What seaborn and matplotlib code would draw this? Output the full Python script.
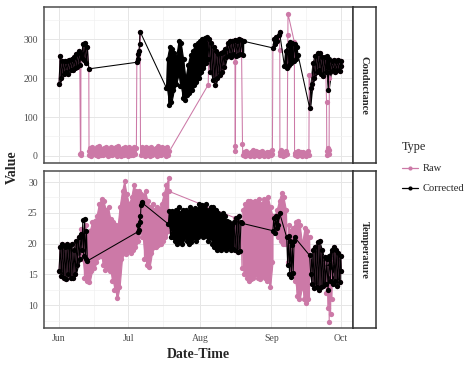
import numpy as np
import pandas as pd
import matplotlib
matplotlib.use("Agg")
import matplotlib.pyplot as plt
import matplotlib.dates as mdates
from matplotlib.lines import Line2D
import seaborn as sns

sns.set_style("white")
plt.rcParams['font.family'] = ['Liberation Serif', 'DejaVu Serif']

start = pd.Timestamp("2016-06-01")
pal = {'Raw': '#CC79A7', 'Corrected': '#000000'}

# ---- Conductance, corrected (days after Jun 1; daily low / high)
cond_c1_lo = [185, 200, 210, 215, 212, 220, 222, 225, 230, 235]
cond_c1_hi = [258, 245, 245, 245, 248, 250, 255, 262, 270, 262]
cond_c2_lo = [252, 246, 240]
cond_c2_hi = [288, 290, 280]
cond_c3_t = [33.7, 34.0, 34.3, 34.6, 34.9, 35.1]
cond_c3_v = [241, 262, 250, 270, 288, 320]
cond_c4_lo = [175, 132, 140, 170, 185, 210, 180, 150, 145, 158, 162, 170, 183, 190, 200, 215, 225,
              240, 250, 215, 195, 183, 200, 209, 215, 230, 255, 260, 255, 262, 258, 260, 262, 260]
cond_c4_hi = [250, 280, 275, 265, 255, 297, 290, 250, 200, 235, 260, 270, 285, 290, 295, 300, 303,
              306, 300, 290, 280, 270, 262, 265, 268, 275, 290, 295, 295, 298, 295, 300, 298, 295]
cond_c5_t = [92.6, 93.1, 93.6, 94.1, 94.6, 95.1, 95.5]
cond_c5_v = [278, 300, 288, 305, 295, 310, 318]
cond_c6_lo = [232, 226, 235, 240, 245, 250]
cond_c6_hi = [270, 285, 293, 290, 288, 280]
cond_c7_lo = [124, 185, 200, 215, 220, 210, 205, 215, 170, 215, 220, 215, 222, 218]
cond_c7_hi = [175, 240, 258, 264, 265, 255, 255, 258, 250, 245, 247, 245, 248, 245]

# ---- Conductance, raw-only readings (sensor out of water / spikes)
cond_r_lo1 = [3, 1, 4, 2, 0, 3, 2, 5, 1, 3, 2, 4, 1, 3, 0, 2, 4, 1, 3, 2, 4]
cond_r_hi1 = [20, 24, 18, 22, 25, 19, 21, 23, 18, 24, 20, 22, 25, 19, 21, 23, 20, 24, 18, 22, 21]
cond_r_lo2 = [2, 4, 1, 3, 0, 2, 5, 1, 3, 2, 4, 1, 3]
cond_r_hi2 = [22, 19, 24, 20, 23, 18, 21, 25, 19, 22, 20, 23, 12]
cond_r_lo3 = [3, 1, 2, 0, 2, 1, 3, 0, 2, 1, 2, 0, 3]
cond_r_hi3 = [10, 12, 8, 11, 14, 13, 9, 10, 12, 8, 11, 10, 15]
cond_r_lo4 = [2, 1, 3]
cond_r_hi4 = [14, 10, 12]
cond_r_lo5 = [2, 0, 3, 1, 2, 1]
cond_r_hi5 = [10, 12, 9, 11, 8, 12]
cond_r_t = [9.28, 9.36, 9.44, 12.95, 64.6, 76.2, 76.28, 76.36, 79.45, 92.4, 95.6, 95.65,
            98.8, 99.05, 99.1, 99.15, 101.9, 102.0, 108.2, 108.35,
            115.85, 115.95, 116.2, 116.45, 116.7, 116.95, 117.05]
cond_r_v = [5, 2, 8, 12, 183, 242, 12, 25, 30, 5, 272, 10,
            4, 230, 312, 366, 293, 8, 3, 209,
            138, 12, 2, 20, 5, 15, 200]

# ---- Temperature, corrected
temp_c1_lo = [15.5, 14.8, 14.5, 14.3, 15, 14.5, 14.5, 15, 16.5, 17.5]
temp_c1_hi = [19.5, 20, 19.5, 20, 19.5, 20, 19, 20.5, 21, 21.5]
temp_c2_t = [9.9, 10.3, 10.7, 11.1, 11.5, 11.9, 12.3]
temp_c2_v = [19, 23.8, 18, 24, 17.5, 22, 17.2]
temp_c3_t = [34.0, 34.3, 34.6, 34.9, 35.2, 35.5, 35.8, 36.1]
temp_c3_v = [21.9, 23, 22.2, 24.5, 23.5, 26.2, 26.8, 26.6]
temp_c4_lo = [23.2, 21, 21, 20.5, 20, 20.5, 20, 21, 20.5, 20, 20.3, 21, 20.5, 21, 21.5, 21,
              21.2, 20.5, 21, 20, 19.5, 19, 19.2, 18.9, 19.5, 19, 19.5, 18.9, 19.2, 19, 18.6, 18.8]
temp_c4_hi = [25.3, 25.3, 25, 25.5, 25.9, 25, 25.5, 25.5, 25, 25.9, 25.5, 25.8, 25.5, 26.4, 26.2, 26,
              26.4, 25.5, 26, 25.9, 25.5, 25, 24.5, 25, 24.5, 23.7, 23.5, 23, 23.5, 24.2, 24.5, 23.5]
temp_c5_t = [92.6, 93.0, 93.4, 93.8, 94.2, 94.6, 95.0, 95.5]
temp_c5_v = [22.1, 24.2, 21.8, 24.5, 22.5, 24.3, 23, 25]
temp_c6_t = [98.6, 99.0, 99.4, 99.8, 100.2, 100.6, 101.0, 101.4, 101.8, 102.1]
temp_c6_v = [21, 16.5, 21.3, 15, 20.5, 14.6, 19.8, 15.2, 20.5, 21]
temp_c7_lo = [18.1, 13.5, 12.8, 13, 12.5, 13, 13.2, 13.5, 12.4, 14, 13.5, 14, 13.2, 13.8]
temp_c7_hi = [15.0, 19, 19.5, 20.3, 20.5, 19, 17.8, 17.5, 18, 19, 19.4, 19, 18.5, 18]

# ---- Temperature, raw-only readings
temp_r_lo1 = [17.8, 17.5, 14.5, 14, 13.7, 15.5, 16, 17, 17.8, 18, 16.5, 15.7, 16, 15.5, 14, 12.5, 11.1,
              13, 17.5, 18.5, 18.3, 19, 18.5, 18.9, 19.5, 20.5, 22, 21, 17.5, 16.5, 16.2, 18.5, 19.4,
              19.5, 19.8, 20, 20.5, 21, 22]
temp_r_hi1 = [22.4, 22, 23, 21.5, 22, 23.5, 23.7, 24.5, 26.5, 27.2, 27, 25.5, 25.9, 24, 23.5, 23, 22.5,
              26, 28.5, 30.2, 28, 26.5, 27.5, 29.6, 28.5, 28.6, 28, 27.5, 28.6, 27, 26, 26.4, 25.5,
              26, 25.5, 26.5, 28, 29.5, 30.6]
temp_r_lo2 = [16, 15, 14.5, 14, 14.2, 14.5, 15, 14.5, 14.3, 14.8, 14.5, 14, 13, 17]
temp_r_hi2 = [25.5, 26.5, 27, 27, 26.8, 27, 26.5, 27.3, 26.5, 27.2, 26.8, 27.5, 26, 24.5]
temp_r_lo3 = [21.8, 22, 21, 20.5, 20, 19.9]
temp_r_hi3 = [24.5, 25.5, 27, 28.3, 27.5, 25.5]
temp_r_lo4 = [17, 15, 15.5, 14, 11.5, 11, 13, 11, 10.3, 11]
temp_r_hi4 = [23, 22, 22.5, 23.5, 23.7, 23, 20, 22.5, 22, 21]
temp_r_t = [47.6, 76.15, 115.5, 115.8, 116.1, 116.4, 116.7, 117.0, 117.3, 117.6, 117.9, 118.2, 118.5]
temp_r_v = [28.5, 24.2, 17, 12, 16, 9.5, 15.5, 7.3, 14, 8.5, 15, 11, 17]

# band segments: (first day, lows, highs)
cond_corr_bands = [(0, cond_c1_lo, cond_c1_hi), (9.8, cond_c2_lo, cond_c2_hi),
                   (46.5, cond_c4_lo, cond_c4_hi), (97.6, cond_c6_lo, cond_c6_hi),
                   (108.5, cond_c7_lo, cond_c7_hi)]
cond_raw_bands = [(13.0, cond_r_lo1, cond_r_hi1), (35.3, cond_r_lo2, cond_r_hi2),
                  (79.6, cond_r_lo3, cond_r_hi3), (95.8, cond_r_lo4, cond_r_hi4),
                  (102.1, cond_r_lo5, cond_r_hi5)]
temp_corr_bands = [(0, temp_c1_lo, temp_c1_hi), (47.3, temp_c4_lo, temp_c4_hi),
                   (108.5, temp_c7_lo, temp_c7_hi)]
temp_raw_bands = [(9.0, temp_r_lo1, temp_r_hi1), (79.2, temp_r_lo2, temp_r_hi2),
                  (93.0, temp_r_lo3, temp_r_hi3), (99.0, temp_r_lo4, temp_r_hi4)]


def band(day0, lo, hi):
    # one low and one high reading per day
    t, v = [], []
    for i, (a, b) in enumerate(zip(lo, hi)):
        t += [day0 + i, day0 + i + 0.5]
        v += [a, b]
    return t, v


def cat(*parts):
    t, v = [], []
    for pt, pv in parts:
        t += list(pt)
        v += list(pv)
    return t, v


def window(series, lims):
    t, v = series
    out_t, out_v = [], []
    for a, b in lims:
        for ti, vi in zip(t, v):
            if a <= ti <= b:
                out_t.append(ti)
                out_v.append(vi)
    return out_t, out_v


def to_date(days):
    return start + pd.to_timedelta(np.asarray(days, dtype=float), unit='D')


cond_corr = cat(*[band(*b) for b in cond_corr_bands], ([12.9], [224]), (cond_c3_t, cond_c3_v),
                (cond_c5_t, cond_c5_v), ([103.5], [260]), ([122.3], [232]))
cond_raw = cat(window(cond_corr, [(0, 9.2), (9.5, 12.9), (33.6, 35.2), (64.7, 76.1), (76.45, 79.4),
                                  (92.5, 95.55), (108.45, 115.8), (117.1, 123)]),
               *[band(*b) for b in cond_raw_bands], (cond_r_t, cond_r_v))

temp_corr = cat(*[band(*b) for b in temp_corr_bands], (temp_c2_t, temp_c2_v), (temp_c3_t, temp_c3_v),
                ([79.3], [23.3]), (temp_c5_t, temp_c5_v), (temp_c6_t, temp_c6_v), ([122.3], [15.5]))
temp_raw = cat(window(temp_corr, [(0, 8.9), (76.2, 79.0), (109.0, 115.4), (118.6, 123)]),
               *[band(*b) for b in temp_raw_bands], (temp_r_t, temp_r_v))


def frame(t, v):
    return pd.DataFrame({'Date': to_date(t), 'Value': v})


fig = plt.figure(figsize=(4.74, 3.66), dpi=100)
ax_top = fig.add_axes([44/474, 1-163/366, 309/474, 156/366])
ax_bot = fig.add_axes([44/474, 1-328/366, 309/474, 157/366])

panels = [(ax_top, cond_raw, cond_raw_bands, cond_corr, cond_corr_bands),
          (ax_bot, temp_raw, temp_raw_bands, temp_corr, temp_corr_bands)]

for ax, raw, raw_bands, corr, corr_bands in panels:
    for typ, series, bands in [('Raw', raw, raw_bands), ('Corrected', corr, corr_bands)]:
        # dense 15-min readings: shade each day's low-high spread, then the series on top
        for day0, lo, hi in bands:
            d = np.arange(len(lo)) + day0 + 0.25
            ax.fill_between(to_date(d), lo, hi, color=pal[typ], lw=0.8, edgecolor=pal[typ])
        sns.lineplot(data=frame(*series), x='Date', y='Value', color=pal[typ],
                     marker='o', markersize=3.8, markeredgewidth=0, linewidth=0.75,
                     estimator=None, sort=True, ax=ax)
    ax.set_xlabel('')
    ax.set_ylabel('')
    ax.set_xlim(start + pd.Timedelta(days=-6.5), start + pd.Timedelta(days=127.3))
    ax.xaxis.set_major_locator(mdates.MonthLocator())
    ax.xaxis.set_minor_locator(mdates.MonthLocator(bymonthday=16))
    ax.xaxis.set_major_formatter(mdates.DateFormatter('%b'))
    ax.grid(which='major', color='#E6E6E6', lw=0.7)
    ax.grid(which='minor', color='#F0F0F0', lw=0.45)
    ax.set_axisbelow(True)
    for s in ax.spines.values():
        s.set_color('#4D4D4D')
        s.set_linewidth(1.1)
    ax.tick_params(axis='both', which='major', length=3, width=0.6, color='#333333',
                   labelsize=7, labelcolor='#4D4D4D', pad=1.5)
    ax.tick_params(axis='both', which='minor', length=0)

ax_top.set_ylim(-18.3, 383.3)
ax_top.set_yticks([0, 100, 200, 300])
ax_top.set_yticks([50, 150, 250, 350], minor=True)
ax_top.tick_params(axis='x', which='both', bottom=False, labelbottom=False)
ax_bot.set_ylim(6.3, 31.8)
ax_bot.set_yticks([10, 15, 20, 25, 30])
ax_bot.set_yticks([7.5, 12.5, 17.5, 22.5, 27.5], minor=True)

for ax, label in [(ax_top, 'Conductance'), (ax_bot, 'Temperature')]:
    pos = ax.get_position()
    sax = fig.add_axes([353/474, pos.y0, 23/474, pos.height])
    sax.set_xticks([])
    sax.set_yticks([])
    for s in sax.spines.values():
        s.set_color('#333333')
        s.set_linewidth(1.1)
    sax.text(0.5, 0.5, label, rotation=-90, ha='center', va='center',
             fontweight='bold', fontsize=7.6, transform=sax.transAxes)

fig.text(12/474, 1-167/366, 'Value', rotation=90, ha='center', va='center',
         fontweight='bold', fontsize=10)
fig.text(198.5/474, 1-355/366, 'Date-Time', ha='center', va='center',
         fontweight='bold', fontsize=10)

handles = [Line2D([], [], color=pal[k], marker='o', markersize=3, markeredgewidth=0, lw=0.9)
           for k in ['Raw', 'Corrected']]
leg = fig.legend(handles, ['Raw', 'Corrected'], title='Type', loc='upper left',
                 bbox_to_anchor=(392/474, 1-132/366), frameon=False, fontsize=7.6,
                 title_fontsize=8.8, handlelength=1.6, handletextpad=0.4, labelspacing=1.0)
leg._legend_box.align = 'left'

fig.savefig('out.png', dpi=100)
